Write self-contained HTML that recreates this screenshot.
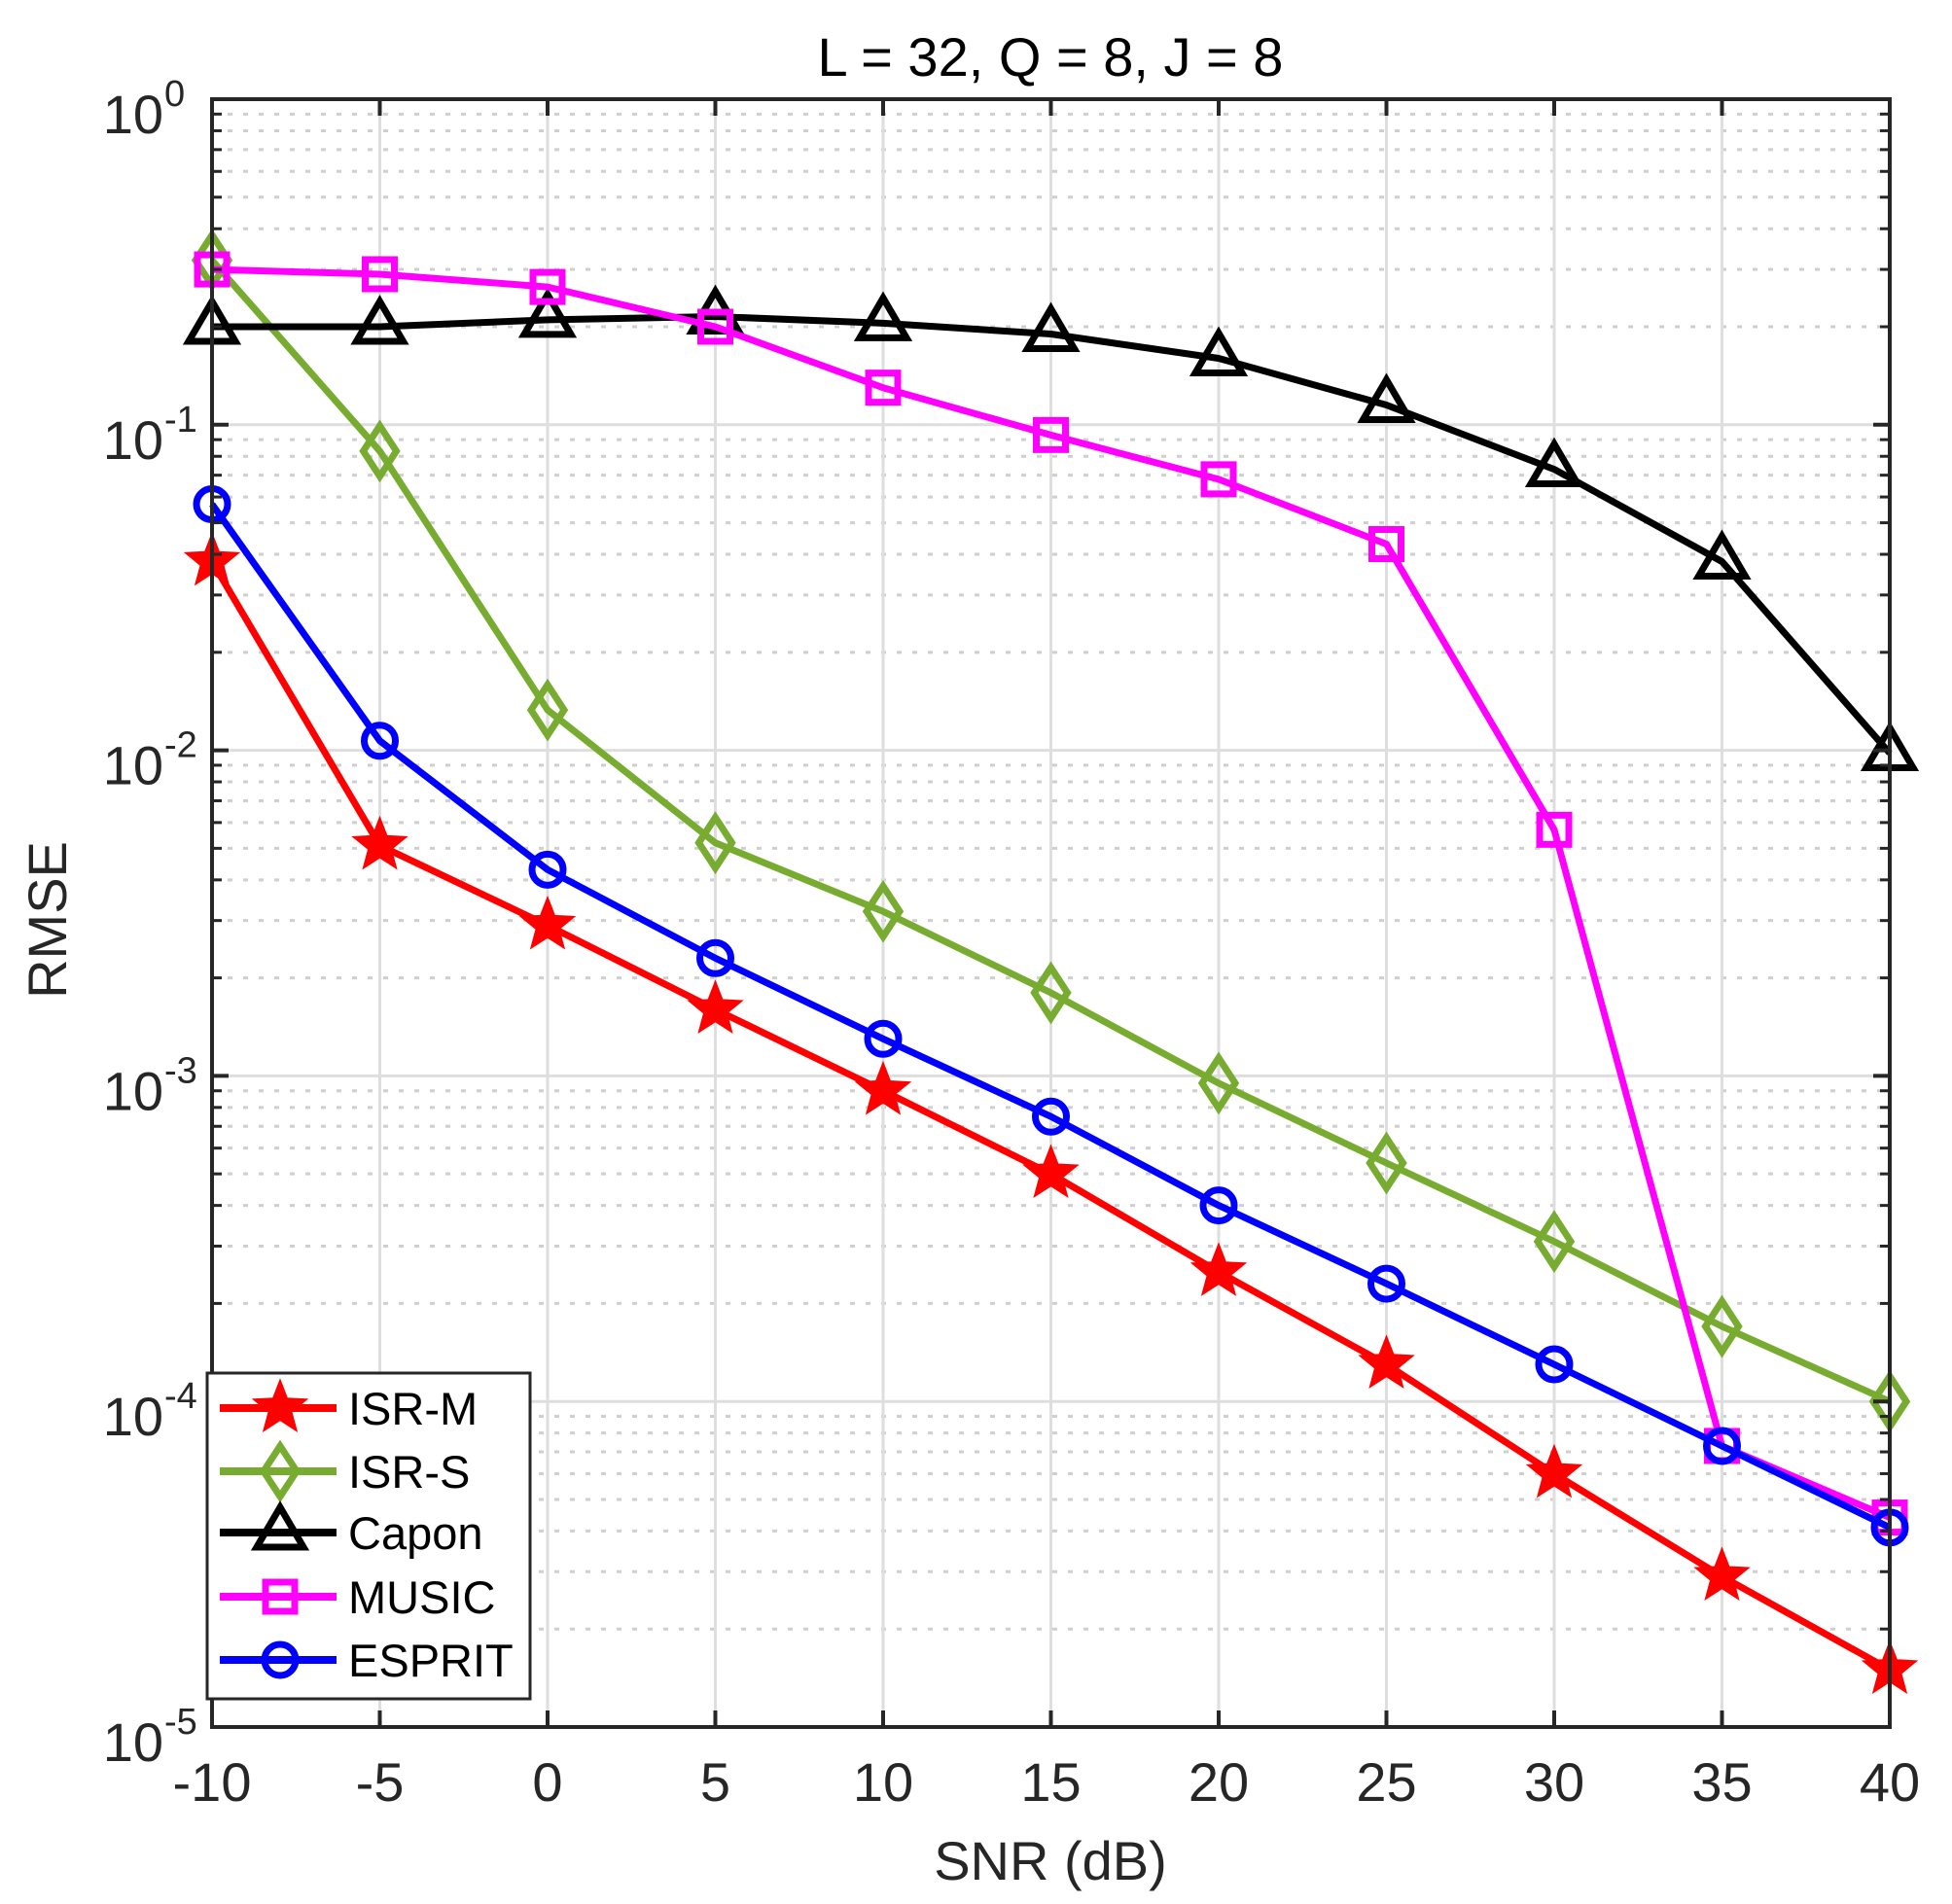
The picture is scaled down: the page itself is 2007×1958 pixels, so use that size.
<!DOCTYPE html>
<html><head><meta charset="utf-8"><style>
html,body{margin:0;padding:0;background:#fff;}
svg{display:block;font-family:"Liberation Sans",Arial,sans-serif;}
</style></head><body>
<svg id="s" width="2007" height="1958" viewBox="0 0 2007 1958" xmlns="http://www.w3.org/2000/svg">
<rect width="2007" height="1958" fill="#fff"/>
<g id="grid"></g>
<g id="series"></g>
<g id="axes"></g>
</svg>
<script>
var NS="http://www.w3.org/2000/svg";
var L=218,R=1943,T=102,B=1776;
function X(v){return L+(v+10)/50*(R-L);}
function Y(v){return T+(-Math.log10(v))/5*(B-T);}
function el(p,tag,a,txt){var e=document.createElementNS(NS,tag);for(var k in a)e.setAttribute(k,a[k]);if(txt!==undefined)e.textContent=txt;document.getElementById(p).appendChild(e);return e;}
for(var d=0;d<5;d++){for(var m=2;m<=9;m++){var y=Y(Math.pow(10,-d-1)*m);
el("grid","line",{x1:L,x2:R,y1:y,y2:y,stroke:"#cfcfcf","stroke-width":3,"stroke-dasharray":"5 11"});
el("axes","line",{x1:L,x2:L+10,y1:y,y2:y,stroke:"#262626","stroke-width":3});
el("axes","line",{x1:R,x2:R-10,y1:y,y2:y,stroke:"#262626","stroke-width":3});}}
for(var d=1;d<5;d++){var y=Y(Math.pow(10,-d));el("grid","line",{x1:L,x2:R,y1:y,y2:y,stroke:"#dedede","stroke-width":3});}
for(var v=-5;v<40;v+=5){var x=X(v);el("grid","line",{x1:x,x2:x,y1:T,y2:B,stroke:"#dedede","stroke-width":3});}
var xs=[-10,-5,0,5,10,15,20,25,30,35,40];
var S=[
["#ff0000","star",[0.038,0.0051,0.0029,0.0016,0.0009,0.0005,0.00025,0.00013,0.00006,0.000029,0.000015]],
["#77ac30","dia",[0.32,0.083,0.0133,0.0052,0.0032,0.0018,0.00095,0.00054,0.00031,0.00017,0.0001]],
["#000000","tri",[0.2,0.2,0.21,0.215,0.205,0.19,0.16,0.115,0.073,0.038,0.0098]],
["#ff00ff","sq",[0.3,0.29,0.265,0.2,0.13,0.093,0.068,0.043,0.0057,0.000073,0.000044]],
["#0000ff","circ",[0.057,0.0107,0.0043,0.0023,0.0013,0.00075,0.0004,0.00023,0.00013,0.000073,0.000041]]];
function marker(g,t,x,y,c){
if(t=="star"){var p=[];for(var i=0;i<10;i++){var r=i%2?12:28,a=-Math.PI/2+i*Math.PI/5;p.push((x+r*Math.cos(a)).toFixed(1)+","+(y+r*Math.sin(a)).toFixed(1));}
el(g,"polygon",{points:p.join(" "),fill:c,stroke:c,"stroke-width":2});}
else if(t=="dia")el(g,"polygon",{points:(x)+","+(y-26)+" "+(x+17)+","+y+" "+x+","+(y+26)+" "+(x-17)+","+y,fill:"none",stroke:c,"stroke-width":7});
else if(t=="tri")el(g,"polygon",{points:x+","+(y-26)+" "+(x+24)+","+(y+15)+" "+(x-24)+","+(y+15),fill:"none",stroke:c,"stroke-width":7});
else if(t=="sq")el(g,"rect",{x:x-15,y:y-15,width:30,height:30,fill:"none",stroke:c,"stroke-width":7});
else el(g,"circle",{cx:x,cy:y,r:16,fill:"none",stroke:c,"stroke-width":7});}
S.forEach(function(s){var p=xs.map(function(v,i){return X(v).toFixed(1)+","+Y(s[2][i]).toFixed(1);});
el("series","polyline",{points:p.join(" "),fill:"none",stroke:s[0],"stroke-width":7,"stroke-linejoin":"round"});
xs.forEach(function(v,i){marker("series",s[1],X(v),Y(s[2][i]),s[0]);});});
el("axes","rect",{x:L,y:T,width:R-L,height:B-T,fill:"none",stroke:"#262626","stroke-width":4});
for(var v=-10;v<=40;v+=5){var x=X(v);
el("axes","line",{x1:x,x2:x,y1:B,y2:B-17,stroke:"#262626","stroke-width":4});
el("axes","line",{x1:x,x2:x,y1:T,y2:T+17,stroke:"#262626","stroke-width":4});
el("axes","text",{x:x,y:1852,"font-size":56,"text-anchor":"middle",fill:"#262626"},String(v));}
for(var d=0;d<=5;d++){var y=Y(Math.pow(10,-d));
el("axes","line",{x1:L,x2:L+17,y1:y,y2:y,stroke:"#262626","stroke-width":4});
el("axes","line",{x1:R,x2:R-17,y1:y,y2:y,stroke:"#262626","stroke-width":4});
el("axes","text",{x:168,y:y+35,"font-size":56,"text-anchor":"end",fill:"#262626"},"10");
el("axes","text",{x:169,y:y+7,"font-size":38,"text-anchor":"start",fill:"#262626"},d==0?"0":"-"+d);}
el("axes","text",{x:1080,y:78,"font-size":56,"text-anchor":"middle",fill:"#000"},"L = 32, Q = 8, J = 8");
el("axes","text",{x:1080,y:1933,"font-size":56,"text-anchor":"middle",fill:"#262626"},"SNR (dB)");
el("axes","text",{x:0,y:0,"font-size":56,"text-anchor":"middle",fill:"#262626",transform:"translate(68,946) rotate(-90)"},"RMSE");
el("axes","rect",{x:213,y:1412,width:332,height:335,fill:"#fff",stroke:"#262626","stroke-width":3});
var ly=[1448,1513,1576,1642,1707],names=["ISR-M","ISR-S","Capon","MUSIC","ESPRIT"];
S.forEach(function(s,i){el("axes","line",{x1:226,x2:346,y1:ly[i],y2:ly[i],stroke:s[0],"stroke-width":8});
marker("axes",s[1],288,ly[i],s[0]);
el("axes","text",{x:358,y:ly[i]+17,"font-size":47,fill:"#000"},names[i]);});
</script>
</body></html>
